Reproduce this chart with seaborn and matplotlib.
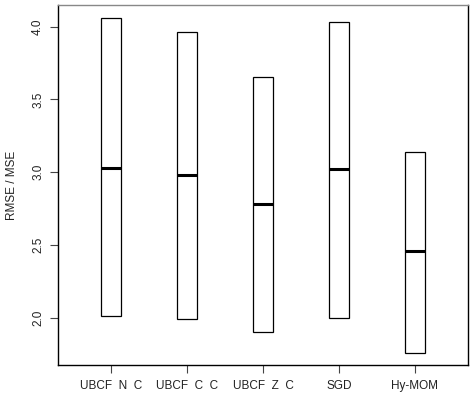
import numpy as np
import pandas as pd
import matplotlib
matplotlib.use("Agg")
import matplotlib.pyplot as plt
import seaborn as sns

sns.set_style("white")
plt.rcParams['font.family'] = ['Liberation Sans', 'DejaVu Sans']

# box values: lower edge, median, upper edge
methods = ["UBCF  N  C", "UBCF  C  C", "UBCF  Z  C", "SGD", "Hy-MOM"]
lower = [2.01, 1.99, 1.90, 2.00, 1.76]
median = [3.03, 2.98, 2.78, 3.02, 2.46]
upper = [4.06, 3.96, 3.65, 4.03, 3.14]

# five points per box so that the whiskers collapse onto the box edges
rows = []
for m, lo, me, hi in zip(methods, lower, median, upper):
    for v in [lo, lo, me, hi, hi]:
        rows.append({"method": m, "value": v})
df = pd.DataFrame(rows)

fig = plt.figure(figsize=(4.74, 3.93), dpi=100)
ax = fig.add_axes([0.1224, 0.0712, 0.8649, 0.9161])

sns.boxplot(data=df, x="method", y="value", order=methods, ax=ax,
            width=0.26, color="white", linecolor="black", linewidth=0.9,
            showcaps=False, showfliers=False,
            medianprops=dict(linewidth=2.2, color="black"))

ax.set_xlim(-0.7, 4.7)
ax.set_ylim(1.675, 4.148)
ax.set_yticks([2.0, 2.5, 3.0, 3.5, 4.0])
ax.set_yticklabels(["2.0", "2.5", "3.0", "3.5", "4.0"], rotation=90, va="center")
ax.set_xlabel("")
ax.set_ylabel("RMSE / MSE", fontsize=8.5, color="#222222", labelpad=10)

ax.tick_params(axis="both", which="both", direction="out", length=6, width=0.8,
               color="#444444", labelsize=8.5, labelcolor="#222222")
ax.tick_params(axis="y", pad=4)
ax.tick_params(axis="x", pad=4.5)
ax.tick_params(left=True, bottom=True)

for s in ax.spines.values():
    s.set_visible(True)
    s.set_color("black")
    s.set_linewidth(1.0)
ax.spines["top"].set_color("#888888")

fig.savefig("out.png", dpi=100)
